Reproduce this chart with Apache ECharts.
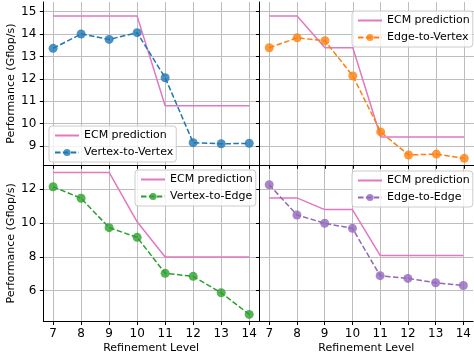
<!DOCTYPE html>
<html><head><meta charset="utf-8">
<script src="https://cdn.jsdelivr.net/npm/echarts@6/dist/echarts.min.js"></script>
<style>html,body{margin:0;padding:0;background:#fff}#c{width:474px;height:356px}</style>
</head><body><div id="c"></div>
<script>
const levels = [7, 8, 9, 10, 11, 12, 13, 14];
const xTicks = [7, 8, 9, 10, 11, 12, 13, 14];
const topYTicks = [9, 10, 11, 12, 13, 14, 15];
const botYTicks = [6, 8, 10, 12];

const ecmV2V = [14.8, 14.8, 14.8, 14.8, 10.8, 10.8, 10.8, 10.8];
const v2v    = [13.36, 14.0, 13.76, 14.06, 12.05, 9.15, 9.1, 9.12];
const ecmE2V = [14.8, 14.8, 13.39, 13.39, 9.4, 9.4, 9.4, 9.4];
const e2v    = [13.39, 13.83, 13.7, 12.13, 9.63, 8.6, 8.64, 8.45];
const ecmV2E = [13.0, 13.0, 13.0, 10.08, 8.0, 8.0, 8.0, 8.0];
const v2e    = [12.15, 11.47, 9.73, 9.16, 7.03, 6.85, 5.88, 4.6];
const ecmE2E = [11.49, 11.49, 10.8, 10.8, 8.09, 8.09, 8.09, 8.09];
const e2e    = [12.27, 10.48, 9.99, 9.69, 6.89, 6.73, 6.47, 6.31];

const FONT = 'DejaVu Sans';
const pair = (xs, ys) => xs.map((x, i) => [x, ys[i]]);

const grids = [
  {left: 43.3, top: 2, width: 215.7, height: 163.3},
  {left: 259.5, top: 2, width: 215.7, height: 163.3},
  {left: 43.3, top: 165.3, width: 215.7, height: 156.2},
  {left: 259.5, top: 165.3, width: 215.7, height: 156.2}
];

function xAxis(i) {
  const bottom = i >= 2;
  return {
    type: 'value', gridIndex: i, min: 6.65, max: 14.35,
    name: bottom ? 'Refinement Level' : '', nameLocation: 'middle', nameGap: 21,
    nameTextStyle: {fontFamily: FONT, fontSize: 11, color: '#000'},
    axisLine: {show: true, onZero: false, lineStyle: {color: '#000', width: 1}},
    axisTick: {show: true, length: 3.5, customValues: xTicks, lineStyle: {color: '#000'}},
    axisLabel: {show: bottom, customValues: xTicks, margin: 6, fontFamily: FONT, fontSize: 12, color: '#000'},
    splitLine: {show: true, lineStyle: {color: '#bdbdbd', width: 1}}
  };
}
function yAxis(i) {
  const topRow = i < 2;
  const left = i % 2 === 0;
  const ticks = topRow ? topYTicks : botYTicks;
  return {
    type: 'value', gridIndex: i,
    min: topRow ? 8.14 : 4.18, max: topRow ? 15.43 : 13.42,
    name: left ? 'Performance (Gflop/s)' : '', nameLocation: 'middle', nameGap: 26,
    nameTextStyle: {fontFamily: FONT, fontSize: 11, color: '#000'},
    axisLine: {show: true, onZero: false, lineStyle: {color: '#000', width: 1}},
    axisTick: {show: true, length: 3.5, customValues: ticks, lineStyle: {color: '#000'}},
    axisLabel: {show: left, customValues: ticks, margin: 7, fontFamily: FONT, fontSize: 12, color: '#000'},
    splitLine: {show: true, lineStyle: {color: '#bdbdbd', width: 1}}
  };
}

const specs = [
  {ecm: ecmV2V, d: v2v, name: 'Vertex-to-Vertex', color: '#1f77b4'},
  {ecm: ecmE2V, d: e2v, name: 'Edge-to-Vertex', color: '#ff7f0e'},
  {ecm: ecmV2E, d: v2e, name: 'Vertex-to-Edge', color: '#2ca02c'},
  {ecm: ecmE2E, d: e2e, name: 'Edge-to-Edge', color: '#9467bd'}
];
const series = [];
specs.forEach((s, i) => {
  series.push({
    type: 'line', name: 'ECM prediction', xAxisIndex: i, yAxisIndex: i,
    data: pair(levels, s.ecm), symbol: 'none',
    lineStyle: {color: '#e377c2', width: 1.5}, itemStyle: {color: '#e377c2'}, z: 2
  });
  series.push({
    type: 'line', name: s.name, xAxisIndex: i, yAxisIndex: i,
    data: pair(levels, s.d), symbol: 'circle', symbolSize: 9,
    lineStyle: {color: s.color, width: 1.5, type: [5.5, 2.4]},
    itemStyle: {color: s.color, opacity: 0.8}, z: 3
  });
});

const legendPos = [
  {left: 49, top: 126},
  {left: 352, top: 11},
  {left: 135, top: 170},
  {left: 352, top: 171}
];
const legends = specs.map((s, i) => ({
  left: legendPos[i].left, top: legendPos[i].top, orient: 'vertical',
  data: [{name: 'ECM prediction', itemStyle: {opacity: 0}}, s.name], selectedMode: false,
  itemWidth: 24, itemHeight: 9, itemGap: 6,
  padding: [4, 3, 4, 5],
  backgroundColor: 'rgba(255,255,255,0.8)', borderColor: '#cccccc', borderWidth: 1, borderRadius: 3,
  textStyle: {fontFamily: FONT, fontSize: 11, color: '#000'}
}));

const chart = echarts.init(document.getElementById('c'), null, {renderer: 'canvas'});
chart.setOption({
  animation: false,
  backgroundColor: '#fff',
  grid: grids,
  xAxis: [0, 1, 2, 3].map(xAxis),
  yAxis: [0, 1, 2, 3].map(yAxis),
  legend: legends,
  series: series
});
</script></body></html>
